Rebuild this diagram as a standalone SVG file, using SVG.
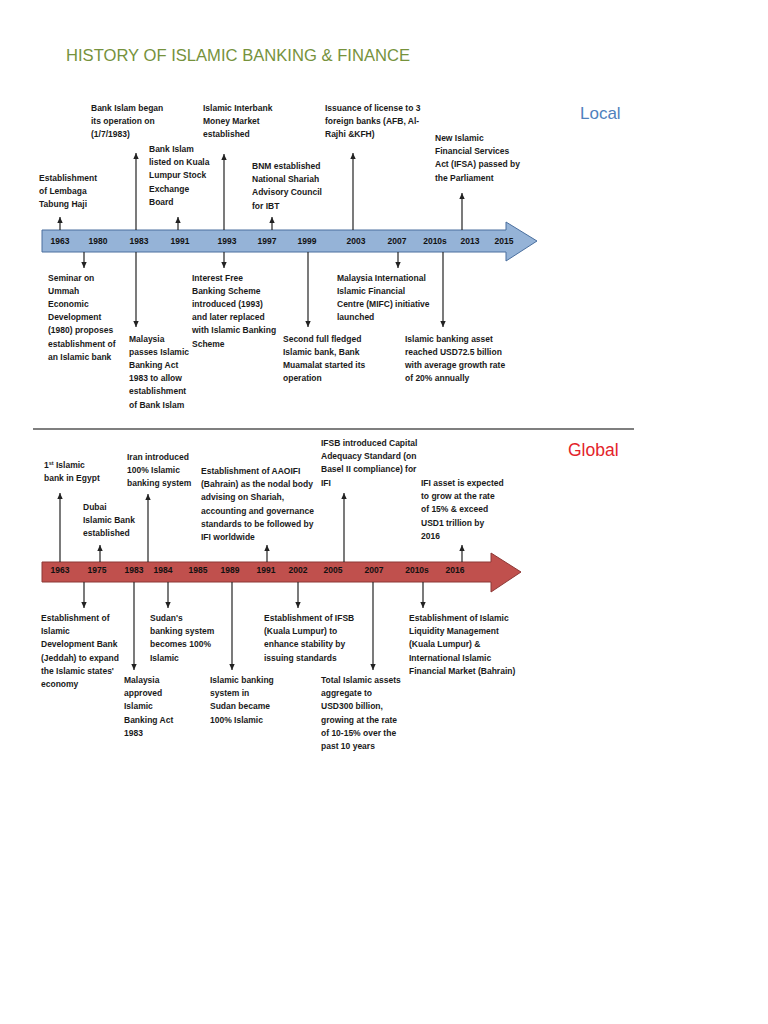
<svg xmlns="http://www.w3.org/2000/svg" width="768" height="1024" viewBox="0 0 768 1024">
<style>
.t{font-family:"Liberation Sans",Arial,sans-serif;font-size:8.5px;font-weight:bold;fill:#1a1a1a}
.y{font-family:"Liberation Sans",Arial,sans-serif;font-size:8.5px;font-weight:bold;fill:#111;text-anchor:middle}
.c{stroke:#222;stroke-width:1.2;fill:none;marker-end:url(#ah)}
</style>
<defs>
<marker id="ah" viewBox="0 0 6 6" refX="6" refY="3" markerWidth="6" markerHeight="6" markerUnits="userSpaceOnUse" orient="auto">
<path d="M0,0.3 L6,3 L0,5.7 z" fill="#222"/>
</marker>
</defs>
<rect width="768" height="1024" fill="#fff"/>
<text x="66" y="61" font-family="'Liberation Sans',Arial,sans-serif" font-size="16.5" fill="#76923C" textLength="344" lengthAdjust="spacingAndGlyphs">HISTORY OF ISLAMIC BANKING &amp; FINANCE</text>
<text x="580" y="119" font-family="'Liberation Sans',Arial,sans-serif" font-size="17" fill="#4F81BD">Local</text>
<text x="568" y="456" font-family="'Liberation Sans',Arial,sans-serif" font-size="17.5" fill="#E3242B">Global</text>
<line x1="33" y1="429" x2="634" y2="429" stroke="#555" stroke-width="1.3"/>

<g id="bar-local">
<polygon points="42,230 506,230 506,222 537,241 506,261 506,252 42,252" fill="#95B3D7" stroke="#4A6F9E" stroke-width="1"/>
<text class="y" x="60" y="244">1963</text><text class="y" x="98" y="244">1980</text><text class="y" x="139" y="244">1983</text><text class="y" x="180" y="244">1991</text><text class="y" x="227" y="244">1993</text><text class="y" x="267" y="244">1997</text><text class="y" x="307" y="244">1999</text><text class="y" x="356" y="244">2003</text><text class="y" x="397" y="244">2007</text><text class="y" x="435" y="244">2010s</text><text class="y" x="470" y="244">2013</text><text class="y" x="504" y="244">2015</text>
</g>
<g id="bar-global">
<polygon points="42,562 491,562 491,553 521,572 491,592 491,582 42,582" fill="#C0504D" stroke="#8C3836" stroke-width="1"/>
<text class="y" x="60" y="573">1963</text><text class="y" x="97" y="573">1975</text><text class="y" x="134" y="573">1983</text><text class="y" x="163" y="573">1984</text><text class="y" x="198" y="573">1985</text><text class="y" x="230" y="573">1989</text><text class="y" x="266" y="573">1991</text><text class="y" x="298" y="573">2002</text><text class="y" x="333" y="573">2005</text><text class="y" x="374" y="573">2007</text><text class="y" x="417" y="573">2010s</text><text class="y" x="455" y="573">2016</text>
</g>

<g id="connectors">
<path class="c" d="M60,230V217"/><path class="c" d="M136,230V153"/><path class="c" d="M178,230V217"/><path class="c" d="M224,230V154"/><path class="c" d="M272,230V217"/><path class="c" d="M353,230V153"/><path class="c" d="M462,230V193"/>
<path class="c" d="M84,252V268"/><path class="c" d="M136,252V327"/><path class="c" d="M224,252V268"/><path class="c" d="M308,252V327"/><path class="c" d="M398,252V268"/><path class="c" d="M443,252V327"/>
<path class="c" d="M60,562V493"/><path class="c" d="M100,562V545"/><path class="c" d="M148,562V494"/><path class="c" d="M267,562V545"/><path class="c" d="M344,562V493"/><path class="c" d="M462,562V545"/>
<path class="c" d="M84,582V608"/><path class="c" d="M134,582V670"/><path class="c" d="M168,582V608"/><path class="c" d="M232,582V670"/><path class="c" d="M298,582V608"/><path class="c" d="M373,582V670"/><path class="c" d="M423,582V608"/>
</g>

<g id="l1963"><text class="t" x="39" y="181"><tspan x="39">Establishment</tspan><tspan x="39" dy="13.2">of Lembaga</tspan><tspan x="39" dy="13.2">Tabung Haji</tspan></text></g>
<g id="l1983up"><text class="t" x="91" y="111"><tspan x="91">Bank Islam began</tspan><tspan x="91" dy="13.2">its operation on</tspan><tspan x="91" dy="13.2">(1/7/1983)</tspan></text></g>
<g id="l1991"><text class="t" x="149" y="152"><tspan x="149">Bank Islam</tspan><tspan x="149" dy="13.2">listed on Kuala</tspan><tspan x="149" dy="13.2">Lumpur Stock</tspan><tspan x="149" dy="13.2">Exchange</tspan><tspan x="149" dy="13.2">Board</tspan></text></g>
<g id="l1993up"><text class="t" x="203" y="111"><tspan x="203">Islamic Interbank</tspan><tspan x="203" dy="13.2">Money Market</tspan><tspan x="203" dy="13.2">established</tspan></text></g>
<g id="l1997"><text class="t" x="252" y="169"><tspan x="252">BNM established</tspan><tspan x="252" dy="13.2">National Shariah</tspan><tspan x="252" dy="13.2">Advisory Council</tspan><tspan x="252" dy="13.2">for IBT</tspan></text></g>
<g id="l2003"><text class="t" x="325" y="111"><tspan x="325">Issuance of license to 3</tspan><tspan x="325" dy="13.2">foreign banks (AFB, Al-</tspan><tspan x="325" dy="13.2">Rajhi &amp;KFH)</tspan></text></g>
<g id="l2013"><text class="t" x="435" y="141"><tspan x="435">New Islamic</tspan><tspan x="435" dy="13.2">Financial Services</tspan><tspan x="435" dy="13.2">Act (IFSA) passed by</tspan><tspan x="435" dy="13.2">the Parliament</tspan></text></g>

<g id="l1980"><text class="t" x="48" y="281"><tspan x="48">Seminar on</tspan><tspan x="48" dy="13.1">Ummah</tspan><tspan x="48" dy="13.1">Economic</tspan><tspan x="48" dy="13.1">Development</tspan><tspan x="48" dy="13.1">(1980) proposes</tspan><tspan x="48" dy="13.1">establishment of</tspan><tspan x="48" dy="13.1">an Islamic bank</tspan></text></g>
<g id="l1983down"><text class="t" x="129" y="342"><tspan x="129">Malaysia</tspan><tspan x="129" dy="13.1">passes Islamic</tspan><tspan x="129" dy="13.1">Banking Act</tspan><tspan x="129" dy="13.1">1983 to allow</tspan><tspan x="129" dy="13.1">establishment</tspan><tspan x="129" dy="13.1">of Bank Islam</tspan></text></g>
<g id="l1993down"><text class="t" x="192" y="281"><tspan x="192">Interest Free</tspan><tspan x="192" dy="13.1">Banking Scheme</tspan><tspan x="192" dy="13.1">introduced (1993)</tspan><tspan x="192" dy="13.1">and later replaced</tspan><tspan x="192" dy="13.1">with Islamic Banking</tspan><tspan x="192" dy="13.1">Scheme</tspan></text></g>
<g id="l1999"><text class="t" x="283" y="342"><tspan x="283">Second full fledged</tspan><tspan x="283" dy="13.1">Islamic bank, Bank</tspan><tspan x="283" dy="13.1">Muamalat started its</tspan><tspan x="283" dy="13.1">operation</tspan></text></g>
<g id="l2007"><text class="t" x="337" y="281"><tspan x="337">Malaysia International</tspan><tspan x="337" dy="13.1">Islamic Financial</tspan><tspan x="337" dy="13.1">Centre (MIFC) initiative</tspan><tspan x="337" dy="13.1">launched</tspan></text></g>
<g id="l2010s"><text class="t" x="405" y="342"><tspan x="405">Islamic banking asset</tspan><tspan x="405" dy="13.1">reached USD72.5 billion</tspan><tspan x="405" dy="13.1">with average growth rate</tspan><tspan x="405" dy="13.1">of 20% annually</tspan></text></g>

<g id="g1963"><text class="t" x="44" y="468"><tspan x="44">1</tspan><tspan font-size="5.5" baseline-shift="3.5">st</tspan><tspan> Islamic</tspan><tspan x="44" dy="13.2">bank in Egypt</tspan></text></g>
<g id="g1975up"><text class="t" x="83" y="510"><tspan x="83">Dubai</tspan><tspan x="83" dy="13.2">Islamic Bank</tspan><tspan x="83" dy="13.2">established</tspan></text></g>
<g id="g1983up"><text class="t" x="127" y="460"><tspan x="127">Iran introduced</tspan><tspan x="127" dy="13.2">100% Islamic</tspan><tspan x="127" dy="13.2">banking system</tspan></text></g>
<g id="g1991"><text class="t" x="201" y="474"><tspan x="201">Establishment of AAOIFI</tspan><tspan x="201" dy="13.2">(Bahrain) as the nodal body</tspan><tspan x="201" dy="13.2">advising on Shariah,</tspan><tspan x="201" dy="13.2">accounting and governance</tspan><tspan x="201" dy="13.2">standards to be followed by</tspan><tspan x="201" dy="13.2">IFI worldwide</tspan></text></g>
<g id="g2005"><text class="t" x="321" y="446"><tspan x="321">IFSB introduced Capital</tspan><tspan x="321" dy="13.2">Adequacy Standard (on</tspan><tspan x="321" dy="13.2">Basel II compliance) for</tspan><tspan x="321" dy="13.2">IFI</tspan></text></g>
<g id="g2016"><text class="t" x="421" y="486"><tspan x="421">IFI asset is expected</tspan><tspan x="421" dy="13.2">to grow at the rate</tspan><tspan x="421" dy="13.2">of 15% &amp; exceed</tspan><tspan x="421" dy="13.2">USD1 trillion by</tspan><tspan x="421" dy="13.2">2016</tspan></text></g>

<g id="g1975down"><text class="t" x="41" y="621"><tspan x="41">Establishment of</tspan><tspan x="41" dy="13.2">Islamic</tspan><tspan x="41" dy="13.2">Development Bank</tspan><tspan x="41" dy="13.2">(Jeddah) to expand</tspan><tspan x="41" dy="13.2">the Islamic states'</tspan><tspan x="41" dy="13.2">economy</tspan></text></g>
<g id="g1983down"><text class="t" x="124" y="683"><tspan x="124">Malaysia</tspan><tspan x="124" dy="13.2">approved</tspan><tspan x="124" dy="13.2">Islamic</tspan><tspan x="124" dy="13.2">Banking Act</tspan><tspan x="124" dy="13.2">1983</tspan></text></g>
<g id="g1984"><text class="t" x="150" y="621"><tspan x="150">Sudan's</tspan><tspan x="150" dy="13.2">banking system</tspan><tspan x="150" dy="13.2">becomes 100%</tspan><tspan x="150" dy="13.2">Islamic</tspan></text></g>
<g id="g1989"><text class="t" x="210" y="683"><tspan x="210">Islamic banking</tspan><tspan x="210" dy="13.2">system in</tspan><tspan x="210" dy="13.2">Sudan became</tspan><tspan x="210" dy="13.2">100% Islamic</tspan></text></g>
<g id="g2002"><text class="t" x="264" y="621"><tspan x="264">Establishment of IFSB</tspan><tspan x="264" dy="13.2">(Kuala Lumpur) to</tspan><tspan x="264" dy="13.2">enhance stability by</tspan><tspan x="264" dy="13.2">issuing standards</tspan></text></g>
<g id="g2007"><text class="t" x="321" y="683"><tspan x="321">Total Islamic assets</tspan><tspan x="321" dy="13.2">aggregate to</tspan><tspan x="321" dy="13.2">USD300 billion,</tspan><tspan x="321" dy="13.2">growing at the rate</tspan><tspan x="321" dy="13.2">of 10-15% over the</tspan><tspan x="321" dy="13.2">past 10 years</tspan></text></g>
<g id="g2010s"><text class="t" x="409" y="621"><tspan x="409">Establishment of Islamic</tspan><tspan x="409" dy="13.2">Liquidity Management</tspan><tspan x="409" dy="13.2">(Kuala Lumpur) &amp;</tspan><tspan x="409" dy="13.2">International Islamic</tspan><tspan x="409" dy="13.2">Financial Market (Bahrain)</tspan></text></g>
</svg>
